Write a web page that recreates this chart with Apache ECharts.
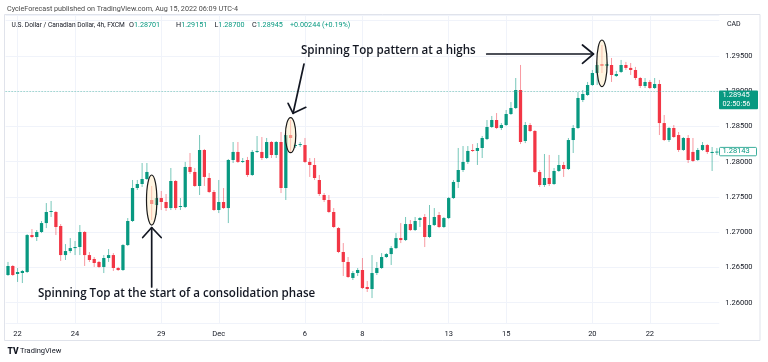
<!DOCTYPE html>
<html><head><meta charset="utf-8">
<script src="https://cdn.jsdelivr.net/npm/echarts@6/dist/echarts.min.js"></script>
<style>html,body{margin:0;padding:0;background:#fff}#c{width:768px;height:362px}</style>
</head><body><div id="c"></div><script>
// trading sessions: [day, number of 4h bars]
const sessions = [['Nov 21',2],['Nov 22',6],['Nov 23',6],['Nov 24',6],['Nov 25',6],['Nov 26',4],
['Nov 28',2],['Nov 29',6],['Nov 30',6],['Dec 1',6],['Dec 2',6],['Dec 3',4],
['Dec 5',2],['Dec 6',6],['Dec 7',6],['Dec 8',6],['Dec 9',6],['Dec 10',4],
['Dec 12',2],['Dec 13',6],['Dec 14',6],['Dec 15',6],['Dec 16',6],['Dec 17',4],
['Dec 19',2],['Dec 20',6],['Dec 21',6],['Dec 22',6],['Dec 23',6],['Dec 24',3]];
const sunHours = ['17:00','21:00'];
const dayHours = ['01:00','05:00','09:00','13:00','17:00','21:00'];
const friHours = ['01:00','05:00','09:00','13:00'];
const tickDays = ['Nov 22','Nov 24','Nov 29','Dec 1','Dec 6','Dec 8','Dec 13','Dec 15','Dec 20','Dec 22'];
const tickLabels = ['22','24','29','Dec','6','8','13','15','20','22'];

const open = [1.26392,1.26520,1.26406,1.26420,1.26435,1.26959,1.26931,1.27002,1.27129,1.27286,
1.27286,1.27087,1.26675,1.26732,1.26774,1.26789,1.27002,1.26675,1.26619,1.26577,
1.26506,1.26633,1.26675,1.26491,1.26463,1.26817,1.27158,1.27626,1.27683,1.27754,
1.27456,1.27385,1.27484,1.27428,1.27342,1.27726,1.27357,1.27357,1.27925,1.27854,
1.27655,1.28166,1.27768,1.27570,1.27314,1.27428,1.27342,1.28024,1.28138,1.27996,
1.28024,1.27811,1.28138,1.28138,1.28052,1.28279,1.28095,1.28279,1.27626,1.28378,
1.28222,1.28236,1.28236,1.27996,1.27953,1.27740,1.27527,1.27456,1.27286,1.27058,
1.26718,1.26577,1.26350,1.26420,1.26463,1.26222,1.26193,1.26420,1.26491,1.26647,
1.26689,1.26774,1.26916,1.26888,1.27115,1.27030,1.27172,1.27215,1.26931,1.27101,
1.27243,1.27073,1.27200,1.27484,1.27712,1.27882,1.27996,1.28166,1.28152,1.28194,
1.28321,1.28492,1.28591,1.28478,1.28520,1.28676,1.28761,1.29017,1.28293,1.28520,
1.28435,1.27854,1.27669,1.27768,1.27683,1.27868,1.27953,1.27896,1.28307,1.28478,
1.28875,1.28946,1.29088,1.29258,1.29386,1.29358,1.29372,1.29216,1.29273,1.29372,
1.29330,1.29301,1.29187,1.29074,1.29131,1.29045,1.29102,1.28548,1.28307,1.28478,
1.28378,1.28166,1.28336,1.28138,1.28024,1.28166,1.28236,1.28123,1.28138];
const close = [1.26520,1.26392,1.26435,1.26449,1.26959,1.26931,1.27002,1.27129,1.27286,1.27300,
1.27073,1.26675,1.26732,1.26774,1.26789,1.27002,1.26675,1.26605,1.26562,1.26506,
1.26633,1.26675,1.26491,1.26463,1.26817,1.27158,1.27626,1.27683,1.27754,1.27854,
1.27399,1.27484,1.27428,1.27342,1.27726,1.27342,1.27371,1.27925,1.27854,1.27655,
1.28166,1.27783,1.27570,1.27314,1.27428,1.27342,1.28024,1.28138,1.27996,1.28010,
1.27811,1.28138,1.28152,1.28052,1.28279,1.28095,1.28279,1.27626,1.28378,1.28336,
1.28236,1.28250,1.27996,1.27953,1.27768,1.27541,1.27456,1.27286,1.27073,1.26718,
1.26577,1.26364,1.26420,1.26463,1.26207,1.26193,1.26420,1.26491,1.26647,1.26689,
1.26774,1.26916,1.26888,1.27115,1.27030,1.27158,1.27200,1.26931,1.27101,1.27215,
1.27073,1.27200,1.27484,1.27712,1.27882,1.27996,1.28152,1.28152,1.28194,1.28336,
1.28492,1.28591,1.28478,1.28520,1.28676,1.28761,1.29017,1.28279,1.28520,1.28435,
1.27854,1.27669,1.27768,1.27683,1.27868,1.27953,1.27896,1.28307,1.28478,1.28904,
1.28960,1.29088,1.29258,1.29372,1.29358,1.29386,1.29230,1.29244,1.29372,1.29330,
1.29301,1.29187,1.29074,1.29131,1.29045,1.29102,1.28548,1.28307,1.28478,1.28350,
1.28166,1.28336,1.28024,1.28010,1.28166,1.28236,1.28138,1.28138,1.28143];
const low = [1.26378,1.26378,1.26293,1.26278,1.26420,1.26916,1.26874,1.26987,1.27058,1.27215,
1.26959,1.26591,1.26605,1.26703,1.26675,1.26675,1.26520,1.26577,1.26506,1.26491,
1.26420,1.26577,1.26449,1.26449,1.26449,1.26803,1.27144,1.27598,1.27641,1.27740,
1.27172,1.27243,1.27314,1.27300,1.27314,1.27314,1.27314,1.27342,1.27825,1.27641,
1.27527,1.27655,1.27555,1.27300,1.27271,1.27328,1.27129,1.27981,1.27981,1.27981,
1.27783,1.27797,1.28123,1.28024,1.28038,1.28052,1.28052,1.27555,1.27456,1.28138,
1.28194,1.28208,1.27981,1.27783,1.27740,1.27513,1.27428,1.27271,1.27058,1.26703,
1.26378,1.26350,1.26321,1.26378,1.26193,1.26151,1.26065,1.26392,1.26477,1.26633,
1.26534,1.26760,1.26845,1.26874,1.27016,1.27016,1.27073,1.26789,1.26916,1.27087,
1.27058,1.27058,1.27186,1.27470,1.27626,1.27854,1.27967,1.28138,1.27953,1.28052,
1.28307,1.28478,1.28463,1.28449,1.28506,1.28662,1.28747,1.28250,1.28264,1.28421,
1.27839,1.27641,1.27641,1.27655,1.27669,1.27854,1.27783,1.27882,1.28123,1.28463,
1.28846,1.28932,1.29074,1.29088,1.29258,1.29330,1.29131,1.29202,1.29258,1.29301,
1.29230,1.29159,1.29045,1.29045,1.29031,1.29031,1.28378,1.28293,1.28279,1.28336,
1.28138,1.28152,1.27981,1.27996,1.28010,1.28152,1.28109,1.27868,1.28095];
const high = [1.26577,1.26534,1.26491,1.26463,1.26973,1.27044,1.27030,1.27158,1.27413,1.27442,
1.27300,1.27115,1.26831,1.26916,1.26874,1.27101,1.27016,1.26718,1.26647,1.26591,
1.26675,1.26760,1.26703,1.26506,1.26831,1.27200,1.27740,1.27740,1.27981,1.27981,
1.27655,1.27598,1.27584,1.27541,1.27910,1.27740,1.27484,1.27996,1.28123,1.27910,
1.28378,1.28180,1.27839,1.27598,1.27740,1.27626,1.28038,1.28279,1.28279,1.28052,
1.28067,1.28166,1.28364,1.28350,1.28336,1.28293,1.28293,1.28421,1.28406,1.28591,
1.28293,1.28279,1.28336,1.28052,1.28052,1.27811,1.27555,1.27527,1.27342,1.27073,
1.26845,1.26647,1.26449,1.26491,1.26633,1.26307,1.26675,1.26577,1.26703,1.26703,
1.26803,1.26987,1.27129,1.27215,1.27172,1.27215,1.27215,1.27257,1.27385,1.27342,
1.27286,1.27215,1.27499,1.27740,1.28194,1.28222,1.28222,1.28250,1.28264,1.28364,
1.28591,1.28648,1.28690,1.28548,1.28733,1.28846,1.29187,1.29372,1.28563,1.28548,
1.28449,1.27882,1.28109,1.28095,1.27910,1.28095,1.27996,1.28336,1.28520,1.28988,
1.29017,1.29131,1.29301,1.29415,1.29655,1.29415,1.29471,1.29287,1.29443,1.29415,
1.29400,1.29344,1.29202,1.29187,1.29159,1.29187,1.29159,1.28662,1.28492,1.28520,
1.28421,1.28350,1.28378,1.28336,1.28194,1.28279,1.28250,1.28208,1.28194];

const lastPrice = 1.28945;
const visibleClose = 1.28143;
const spinningTops = [30, 59, 124];

// build categories from the sessions
const categories = [];
const tickAt = {};
sessions.forEach(([day, n]) => {
  const hours = n === 2 ? sunHours : (n === 6 ? dayHours : friHours.slice(0, n));
  hours.forEach((h, k) => {
    const ti = tickDays.indexOf(day);
    if (k === 0 && ti >= 0) tickAt[categories.length] = tickLabels[ti];
    categories.push(day + ' ' + h);
  });
});
const isTick = (i) => tickAt[i] !== undefined;

const UP = '#089981', DOWN = '#f23645';
const chart = echarts.init(document.getElementById('c'));
const data = categories.map((c, i) => [i, open[i], close[i], low[i], high[i]]);

chart.setOption({
  animation: false,
  backgroundColor: '#ffffff',
  grid: { left: 5.6, right: 48.7, top: 15, bottom: 39 },
  xAxis: {
    type: 'category', data: categories, boundaryGap: true,
    axisLine: { show: false }, axisTick: { show: false },
    axisLabel: { interval: (i) => isTick(i), formatter: (v, i) => tickAt[i] || '',
      color: '#131722', fontSize: 7.5, fontFamily: 'Roboto', margin: 7 },
    splitLine: { show: true, interval: (i) => isTick(i), alignWithLabel: true,
      lineStyle: { color: '#f0f3fa', width: 1 } }
  },
  yAxis: {
    type: 'value', position: 'right', min: 1.25711, max: 1.30081, splitNumber: 9, scale: true,
    axisLine: { show: false }, axisTick: { show: false },
    axisLabel: { showMinLabel: false, showMaxLabel: false, color: '#131722', fontSize: 7.5,
      fontFamily: 'Roboto', margin: 6, formatter: (v) => v > 1.2999 ? '' : v.toFixed(5) },
    splitLine: { lineStyle: { color: '#f0f3fa', width: 1 } }
  },
  series: [{
    type: 'custom',
    data: data,
    encode: { x: 0, y: [1, 2, 3, 4] },
    clip: false,
    renderItem: (params, api) => {
      const i = api.value(0), o = api.value(1), c = api.value(2), l = api.value(3), h = api.value(4);
      const pO = api.coord([i, o]), pC = api.coord([i, c]), pL = api.coord([i, l]), pH = api.coord([i, h]);
      const bw = api.size([1, 0])[0] * 0.68;
      const up = c >= o;
      const x = pO[0];
      const top = Math.min(pO[1], pC[1]), bot = Math.max(pO[1], pC[1]);
      return { type: 'group', children: [
        { type: 'line', shape: { x1: x, y1: pH[1], x2: x, y2: pL[1] },
          style: { stroke: up ? 'rgba(8,153,129,0.55)' : 'rgba(242,54,69,0.5)', lineWidth: 1 } },
        { type: 'rect', shape: { x: x - bw / 2, y: top, width: bw, height: Math.max(bot - top, 1) },
          style: { fill: up ? UP : DOWN } }
      ]};
    },
    markLine: { symbol: 'none', silent: true, label: { show: false },
      lineStyle: { color: '#4fb8a6', opacity: 0.8, type: [1, 2], width: 1 },
      data: [{ yAxis: lastPrice }] }
  }]
});

function px(i, p) { return chart.convertToPixel({ gridIndex: 0 }, [i, p]); }

const g = [];
const txt = (x, y, s, o) => Object.assign({ type: 'text', x: x, y: y, z: 100,
  style: Object.assign({ text: s, fontFamily: 'Roboto', fontSize: 7, fill: '#131722', verticalAlign: 'middle' }, o || {}) });

// frame
g.push({ type: 'rect', shape: { x: 4.5, y: 14.5, width: 755.5, height: 326 }, z: 1,
  style: { fill: 'none', stroke: '#e0e3eb', lineWidth: 1 } });
g.push(txt(7, 9, 'CycleForecast published on TradingView.com, Aug 15, 2022 06:09 UTC-4', { fill: '#4a4a4a', fontSize: 7.2 }));
// legend line
g.push(txt(11.5, 25, 'U.S. Dollar / Canadian Dollar, 4h, FXCM', { fontSize: 6.6 }));
[['O', '1.28701', 129], ['H', '1.29151', 176], ['L', '1.28700', 214.5], ['C', '1.28945', 252]].forEach(([k, v, x]) => {
  g.push({ type: 'text', x: x, y: 25, z: 100, style: { text: '{k|' + k + '}{v|' + v + '}', verticalAlign: 'middle',
    rich: { k: { fontFamily: 'Roboto', fontSize: 7.2, fill: '#131722' }, v: { fontFamily: 'Roboto', fontSize: 7.2, fill: UP } } } });
});
g.push(txt(290, 25, '+0.00244 (+0.19%)', { fontSize: 7.2, fill: UP }));
g.push(txt(727, 24.5, 'CAD', { fontSize: 7, fill: '#131722' }));

// price labels
const pLast = px(0, lastPrice)[1];
g.push({ type: 'rect', shape: { x: 719, y: pLast - 4.5, width: 39, height: 18.7, r: 1 }, z: 90, style: { fill: UP } });
g.push(txt(722.5, pLast, lastPrice.toFixed(5), { fill: '#fff', fontSize: 7.5 }));
g.push(txt(722.5, pLast + 8.8, '02:50:56', { fill: '#fff', fontSize: 7.2 }));
const pVis = px(0, visibleClose)[1];
g.push({ type: 'rect', shape: { x: 719.5, y: pVis - 4.2, width: 37, height: 8.4, r: 1 }, z: 90,
  style: { fill: '#fff', stroke: UP, lineWidth: 0.8 } });
g.push(txt(722.5, pVis, visibleClose.toFixed(5), { fill: UP, fontSize: 7.5 }));

// spinning top ellipses
const ellipseSpan = [[1.27811, 1.27101], [1.28624, 1.28127], [1.29726, 1.29064]];
const ell = spinningTops.map((idx, k) => {
  const a = px(idx, ellipseSpan[k][0]), b = px(idx, ellipseSpan[k][1]);
  return { cx: a[0], cy: (a[1] + b[1]) / 2, rx: 5.2, ry: (b[1] - a[1]) / 2, top: a[1], bot: b[1] };
});
ell.forEach(e => g.push({ type: 'ellipse', shape: { cx: e.cx, cy: e.cy, rx: e.rx, ry: e.ry }, z: 50,
  style: { fill: 'rgba(255,236,196,0.5)', stroke: '#1b1b1b', lineWidth: 1.2 } }));

const ink = { stroke: '#131722', lineWidth: 1.7, fill: 'none', lineCap: 'round', lineJoin: 'round' };
// arrow 1 (bottom, pointing up)
const e1 = ell[0];
g.push({ type: 'line', z: 60, shape: { x1: e1.cx, y1: 287, x2: e1.cx, y2: e1.bot + 2.5 }, style: ink });
g.push({ type: 'polyline', z: 60, shape: { points: [[e1.cx - 9, e1.bot + 12.5], [e1.cx, e1.bot + 2.5], [e1.cx + 9.5, e1.bot + 12.5]] }, style: ink });
// arrow 2 (middle, pointing down-left)
const e2 = ell[1];
const t2 = [e2.cx + 2.5, e2.top - 4.4];
g.push({ type: 'line', z: 60, shape: { x1: 304, y1: 64, x2: t2[0], y2: t2[1] }, style: ink });
g.push({ type: 'polyline', z: 60, shape: { points: [[t2[0] - 5, t2[1] - 10], t2, [t2[0] + 12.7, t2[1] - 6]] }, style: ink });
// arrow 3 (top, pointing right)
const e3 = ell[2];
const t3 = [e3.cx - e3.rx - 3.3, 54];
g.push({ type: 'line', z: 60, shape: { x1: 486.7, y1: 54, x2: t3[0], y2: t3[1] }, style: ink });
g.push({ type: 'polyline', z: 60, shape: { points: [[t3[0] - 11, 45], t3, [t3[0] - 11, 63.3]] }, style: ink });

// annotation texts
const ann = { fontFamily: 'Open Sans', fontWeight: 600, fontSize: 11.6, fill: '#131722' };
g.push(txt(301, 51, 'Spinning Top pattern at a highs', ann));
g.push(txt(38, 294, 'Spinning Top at the start of a consolidation phase', ann));

// TradingView logo
g.push(txt(7.5, 351.5, 'TV', { fontFamily: 'Roboto', fontWeight: 900, fontSize: 8.5, fill: '#131722' }));
g.push(txt(20, 351.5, 'TradingView', { fontSize: 7.5, fill: '#131722' }));

chart.setOption({ graphic: { elements: g } });
</script></body></html>
